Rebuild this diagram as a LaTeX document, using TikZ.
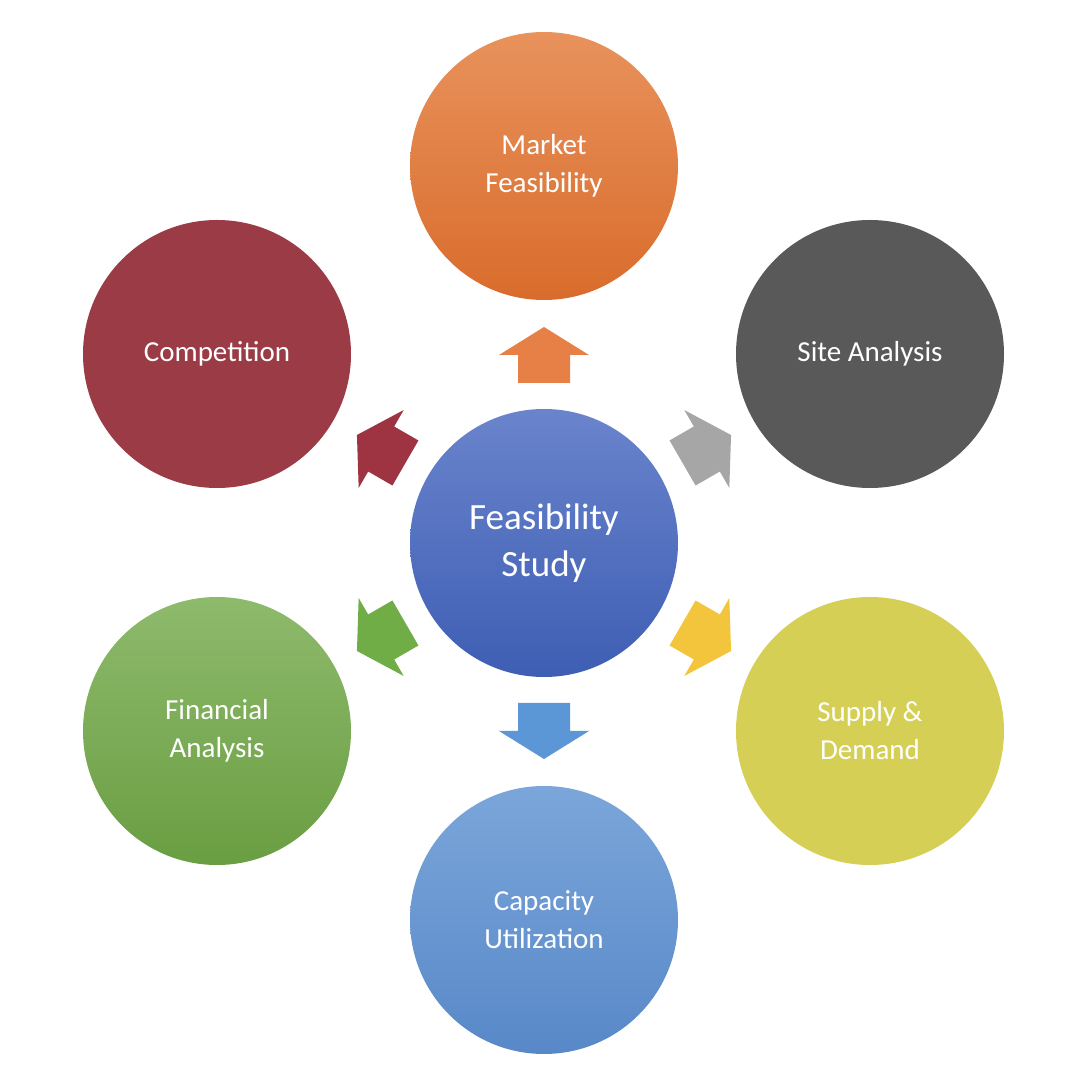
\documentclass[tikz,border=0pt]{standalone}
\usepackage{fontspec}
\setmainfont{Carlito}
\begin{document}
\begin{tikzpicture}[x=1pt,y=1pt,
  circ/.style={circle,minimum size=268pt,inner sep=0pt,text=white,align=center,font=\fontsize{29}{38}\selectfont},
  arr/.style={line width=0pt}]
\useasboundingbox (0,0) rectangle (1080,1080);
\fill[white] (0,0) rectangle (1080,1080);
\node[circ,top color={rgb,255:red,106;green,132;blue,204},bottom color={rgb,255:red,62;green,94;blue,180},font=\fontsize{37}{47}\selectfont] (c) at (544,537) {Feasibility\\Study};
\node[circ,top color={rgb,255:red,232;green,146;blue,92},bottom color={rgb,255:red,217;green,108;blue,44}] (m) at (544,914) {Market\\Feasibility};
\node[circ,fill={rgb,255:red,89;green,89;blue,89}] (s) at (870,726) {Site Analysis};
\node[circ,fill={rgb,255:red,213;green,207;blue,85}] (d) at (870,349) {Supply \&\\Demand};
\node[circ,top color={rgb,255:red,123;green,166;blue,218},bottom color={rgb,255:red,88;green,136;blue,200}] (u) at (544,160) {Capacity\\Utilization};
\node[circ,top color={rgb,255:red,142;green,186;blue,108},bottom color={rgb,255:red,106;green,158;blue,66}] (f) at (217,349) {Financial\\Analysis};
\node[circ,fill={rgb,255:red,155;green,59;blue,69}] (k) at (217,726) {Competition};
\foreach \a/\col in {90/{rgb,255:red,230;green,128;blue,70},30/{rgb,255:red,166;green,166;blue,166},-30/{rgb,255:red,242;green,197;blue,61},-90/{rgb,255:red,91;green,150;blue,214},210/{rgb,255:red,112;green,173;blue,71},150/{rgb,255:red,158;green,52;blue,66}}{
  \fill[fill=\col,shift={(c.center)},rotate=\a] (160,-26) -- (188,-26) -- (188,-45) -- (216,0) -- (188,45) -- (188,26) -- (160,26) -- cycle;
}
\end{tikzpicture}
\end{document}
